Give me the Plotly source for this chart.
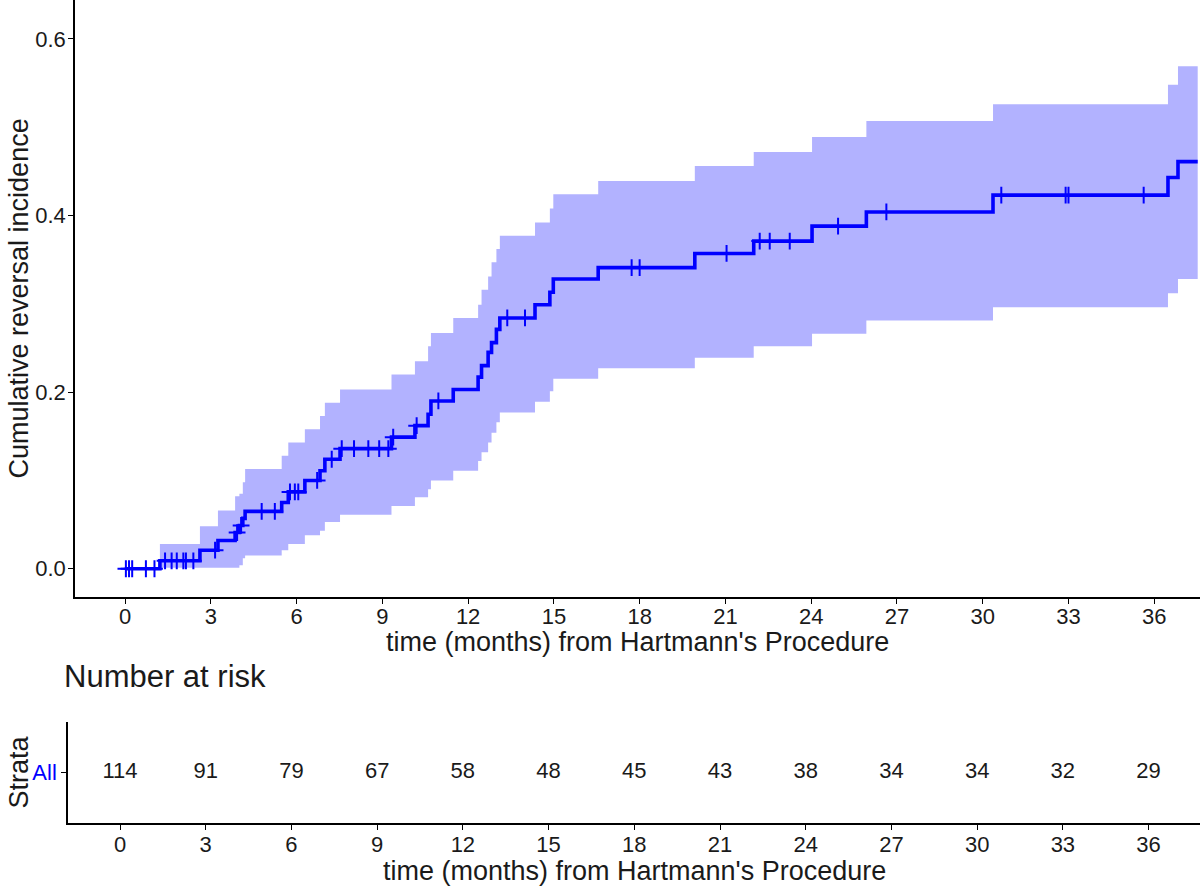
import numpy as np
import plotly.graph_objects as go

# ---------------- data ----------------
event_times = [1.22, 2.62, 3.25, 3.85, 4.0, 4.12, 4.2, 5.48, 5.71, 6.29, 6.82, 6.99, 7.52,
               9.32, 10.14, 10.6, 10.7, 11.48, 12.35, 12.47, 12.7, 12.82, 12.99, 13.11,
               14.34, 14.86, 14.98, 16.55, 19.93, 21.99, 24.03, 25.93, 30.36, 36.48, 36.83]
cum_inc = [0.009, 0.021, 0.032, 0.041, 0.049, 0.057, 0.065, 0.075, 0.087, 0.100, 0.111, 0.124, 0.136,
           0.149, 0.162, 0.175, 0.190, 0.203, 0.217, 0.230, 0.245, 0.256, 0.271, 0.284,
           0.299, 0.313, 0.328, 0.341, 0.357, 0.371, 0.388, 0.404, 0.423, 0.443, 0.461]
ci_upper = [0.028, 0.048, 0.066, 0.082, 0.085, 0.098, 0.113, 0.128, 0.143, 0.158, 0.173, 0.188, 0.203,
            0.220, 0.235, 0.252, 0.267, 0.284, 0.299, 0.316, 0.331, 0.347, 0.362, 0.377,
            0.392, 0.408, 0.424, 0.439, 0.456, 0.472, 0.489, 0.507, 0.526, 0.548, 0.569]
ci_lower = [0.001, 0.001, 0.001, 0.001, 0.004, 0.012, 0.015, 0.021, 0.028, 0.038, 0.043, 0.053, 0.061,
            0.071, 0.081, 0.090, 0.100, 0.111, 0.122, 0.132, 0.143, 0.154, 0.166, 0.177,
            0.189, 0.201, 0.215, 0.227, 0.239, 0.252, 0.266, 0.281, 0.296, 0.312, 0.328]
last_followup = 37.52
censor_times = [0.03, 0.14, 0.25, 0.73, 1.03, 1.40, 1.63, 1.81, 2.04, 2.13, 2.39, 3.15, 3.92, 4.06,
                4.78, 5.24, 5.77, 5.94, 6.06, 6.72, 7.23, 7.58, 8.01, 8.51, 8.89, 9.21, 9.38,
                10.2, 10.96, 13.37, 13.99, 17.72, 18.0, 21.04, 22.2, 22.55, 23.25, 24.94,
                26.63, 30.65, 32.9, 33.0, 35.63]
risk_times = [0, 3, 6, 9, 12, 15, 18, 21, 24, 27, 30, 33, 36]
n_at_risk = [114, 91, 79, 67, 58, 48, 45, 43, 38, 34, 34, 32, 29]
strata = ["All"]

# step arrays
t_step = [0.0] + event_times + [last_followup]
y_step = [0.0] + cum_inc + [cum_inc[-1]]
up_step = [0.0] + ci_upper + [ci_upper[-1]]
lo_step = [0.0] + ci_lower + [ci_lower[-1]]

# censor y from step function
idx = np.searchsorted(np.array(t_step), np.array(censor_times), side="right") - 1
censor_y = [y_step[i] for i in idx]

W, H = 1200, 889
FONT = "Liberation Sans, Arial, Helvetica, sans-serif"
BLUE = "#0000FF"
TXT = "#1a1a1a"
TICK_SIZE = 22
TITLE_SIZE = 27

fig = go.Figure()
fig.add_trace(go.Scatter(x=t_step, y=lo_step, mode="lines", line=dict(width=0, shape="hv"),
                         hoverinfo="skip", showlegend=False, xaxis="x", yaxis="y"))
fig.add_trace(go.Scatter(x=t_step, y=up_step, mode="lines", line=dict(width=0, shape="hv"),
                         fill="tonexty", fillcolor="rgba(0,0,255,0.3)",
                         hoverinfo="skip", showlegend=False, xaxis="x", yaxis="y"))
fig.add_trace(go.Scatter(x=t_step, y=y_step, mode="lines", line=dict(color=BLUE, width=3.6, shape="hv"),
                         showlegend=False, xaxis="x", yaxis="y"))
fig.add_trace(go.Scatter(x=censor_times, y=censor_y, mode="markers",
                         marker=dict(symbol="cross-thin", size=12, line=dict(color=BLUE, width=2)),
                         showlegend=False, xaxis="x", yaxis="y"))

# risk table
fig.add_trace(go.Scatter(x=risk_times, y=[0] * len(risk_times), mode="text",
                         text=[str(v) for v in n_at_risk],
                         textfont=dict(family=FONT, size=TICK_SIZE, color=TXT),
                         showlegend=False, xaxis="x2", yaxis="y2"))

main_x = [75 / W, 1.0]
main_y = [1 - 597 / H, 1.0]
risk_x = [68 / W, 1.0]
risk_y = [1 - 823 / H, 1 - 722 / H]

axis_common = dict(showline=True, linecolor="black", linewidth=1.6, ticks="outside",
                   ticklen=5, tickwidth=1.4, tickcolor="black", showgrid=False, zeroline=False)
tickf = dict(family=FONT, size=TICK_SIZE, color=TXT)

fig.update_layout(
    width=W, height=H, margin=dict(l=0, r=0, t=0, b=0),
    paper_bgcolor="white", plot_bgcolor="white",
    xaxis=dict(domain=main_x, range=[-1.75, 37.6], tickvals=risk_times, anchor="y",
               tickfont=tickf, ticklabelstandoff=-6, **axis_common),
    yaxis=dict(domain=main_y, range=[-0.032, 0.644], tickvals=[0, 0.2, 0.4, 0.6],
               ticktext=["0.0", "0.2", "0.4", "0.6"], anchor="x", tickfont=tickf,
               ticklabelstandoff=-2, **axis_common),
    xaxis2=dict(domain=risk_x, range=[-1.82, 37.8], tickvals=risk_times, anchor="y2",
                tickfont=tickf, ticklabelstandoff=-4, **axis_common),
    yaxis2=dict(domain=risk_y, range=[-1, 1], tickvals=[0], ticktext=strata, anchor="x2",
                tickfont=dict(family=FONT, size=TICK_SIZE, color=BLUE), **axis_common),
)

ann = [
    dict(text="Cumulative reversal incidence", x=18 / W, y=0.5, xref="paper", yref="y domain",
         textangle=-90, showarrow=False, font=dict(family=FONT, size=TITLE_SIZE, color=TXT),
         xanchor="center", yanchor="middle"),
    dict(text="time (months) from Hartmann's Procedure", x=0.5, y=1 - 642 / H, xref="x domain",
         yref="paper", showarrow=False, font=dict(family=FONT, size=TITLE_SIZE, color=TXT),
         xanchor="center", yanchor="middle"),
    dict(text="Number at risk", x=62 / W, y=1 - 676 / H, xref="paper", yref="paper",
         showarrow=False, font=dict(family=FONT, size=31, color=TXT),
         xanchor="left", yanchor="middle"),
    dict(text="Strata", x=18 / W, y=0.5, xref="paper", yref="y2 domain", textangle=-90,
         showarrow=False, font=dict(family=FONT, size=TITLE_SIZE, color=TXT),
         xanchor="center", yanchor="middle"),
    dict(text="time (months) from Hartmann's Procedure", x=0.5, y=1 - 871 / H, xref="x2 domain",
         yref="paper", showarrow=False, font=dict(family=FONT, size=TITLE_SIZE, color=TXT),
         xanchor="center", yanchor="middle"),
]
fig.update_layout(annotations=ann)

fig.write_html("out.html", config={"displayModeBar": False},
               post_script="document.body.style.margin='0px';")
